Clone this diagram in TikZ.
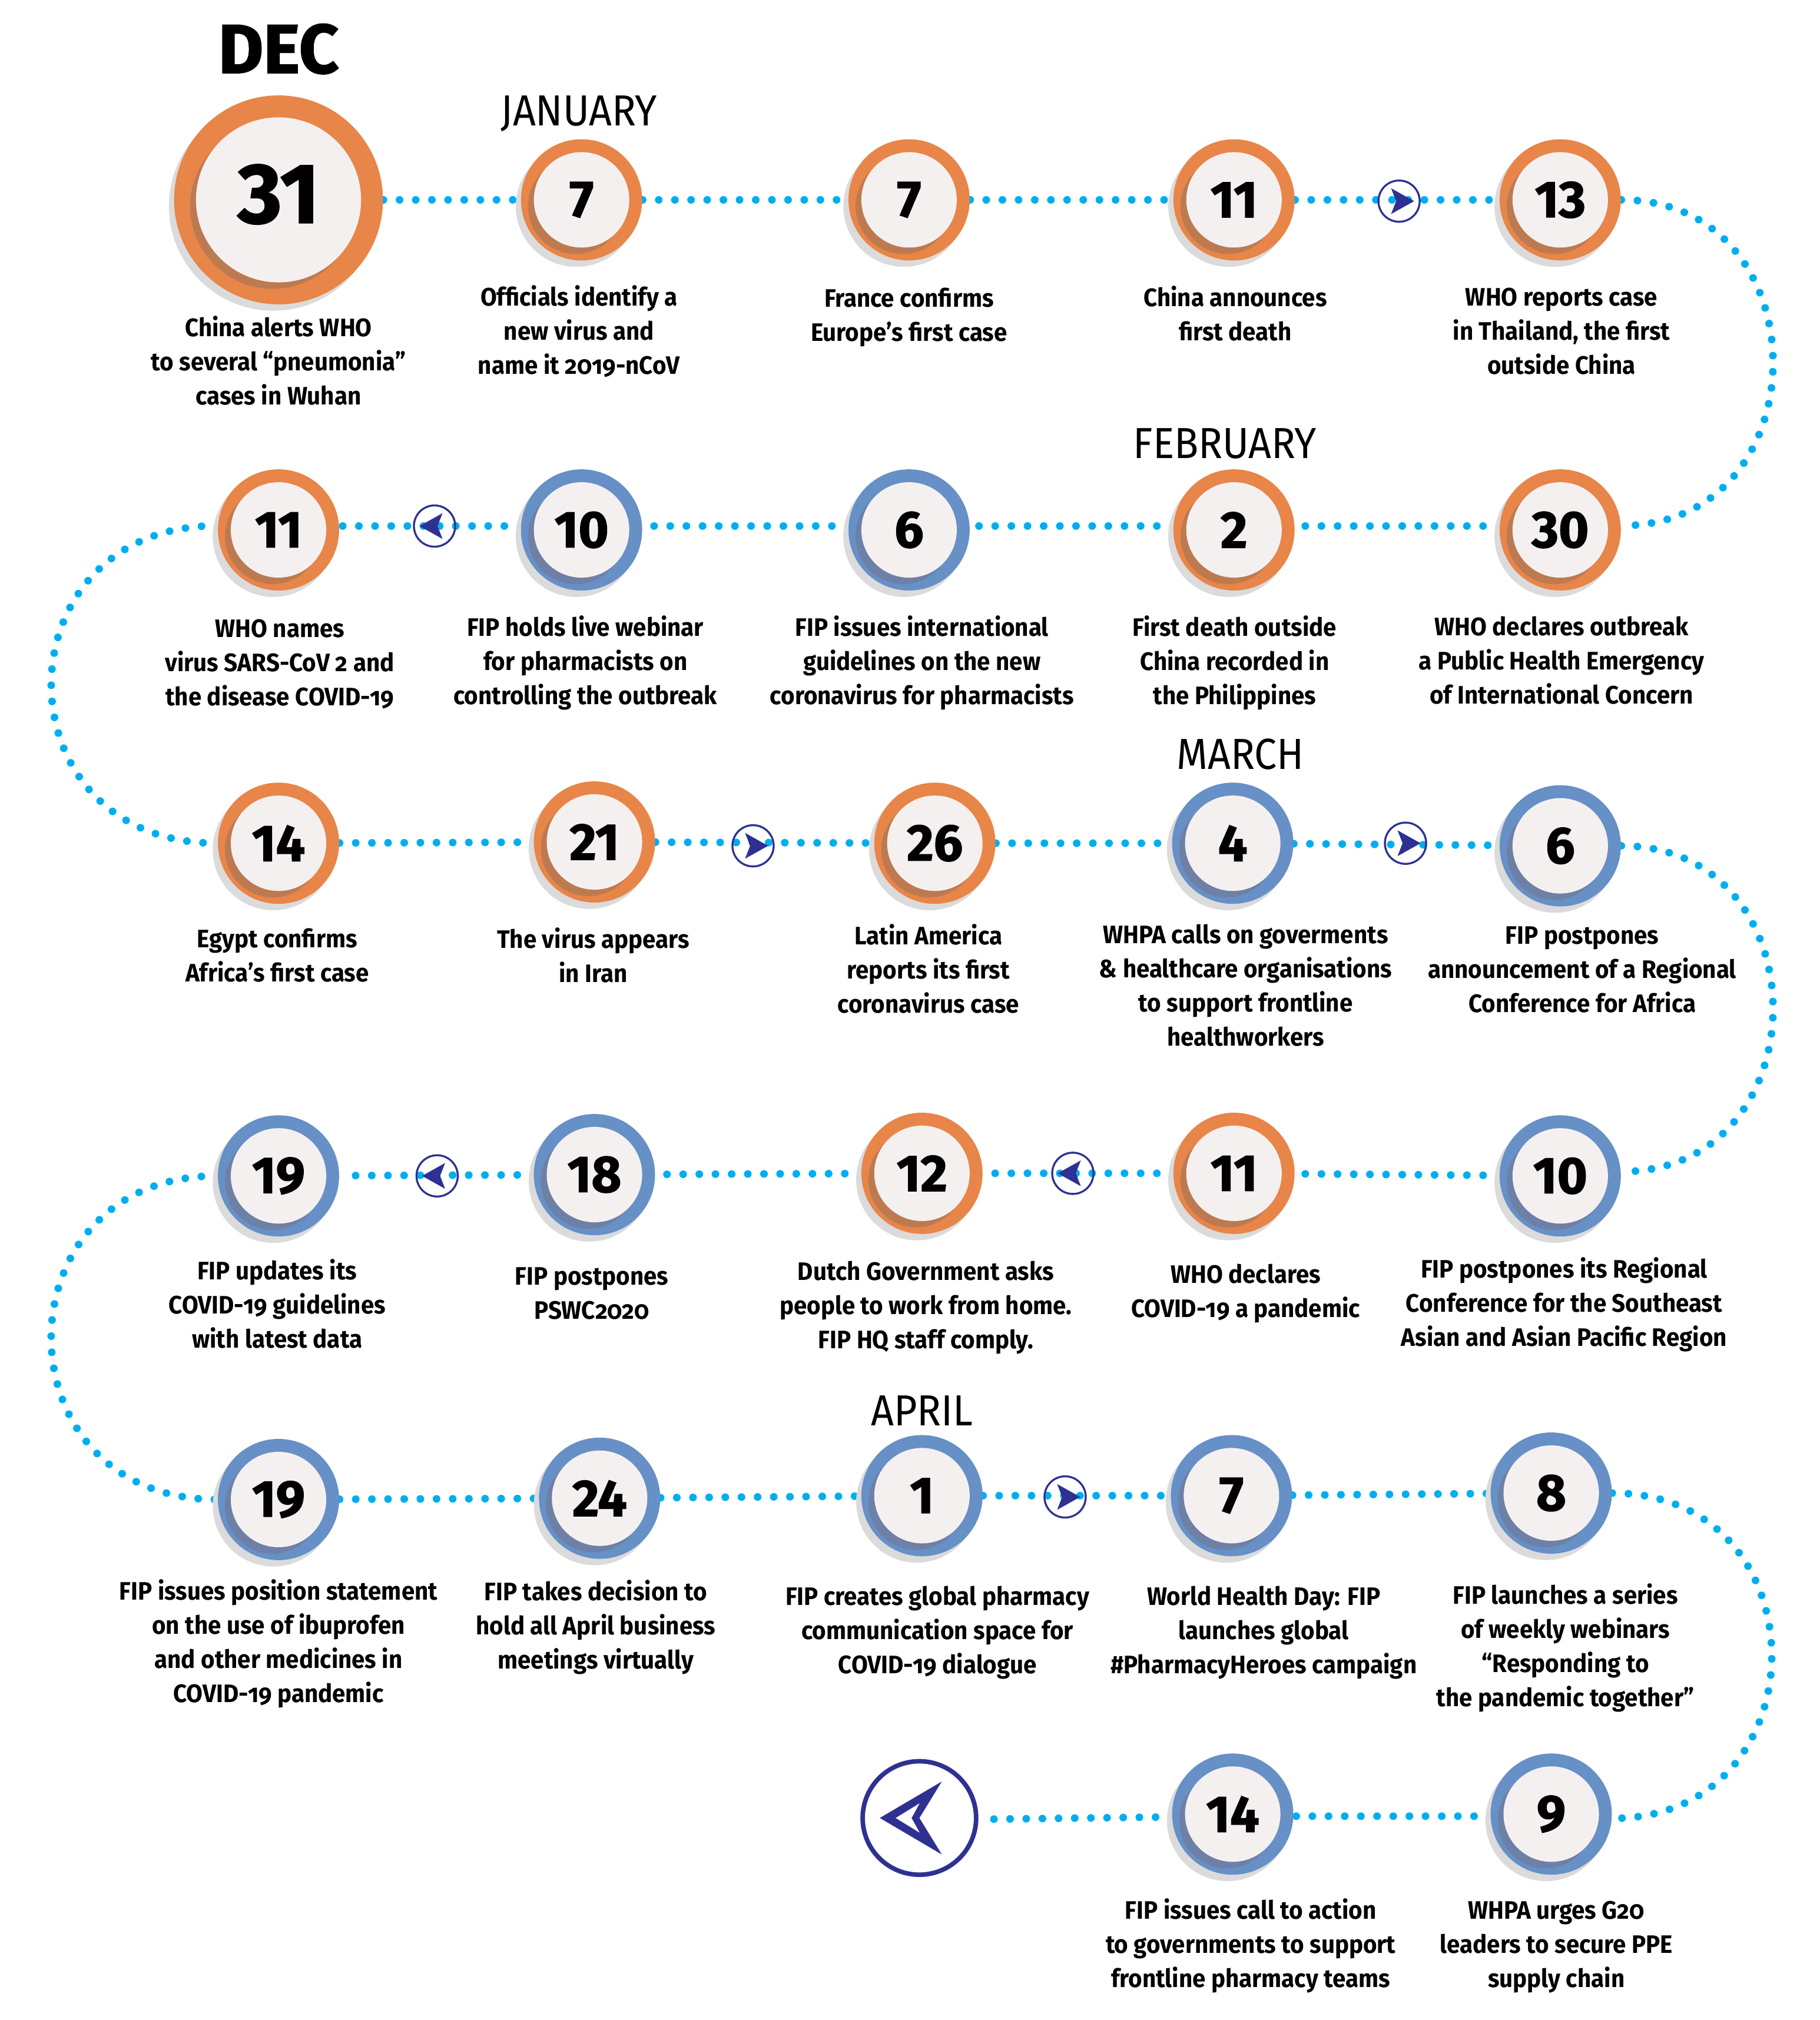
\documentclass[tikz,border=0pt]{standalone}
\usepackage{fontspec}
\usepackage{xcolor}
\usetikzlibrary{backgrounds,shadows}
\setmainfont[Numbers=OldStyle,FakeStretch=0.94]{Fira Sans}
\newfontfamily\dayfont[Numbers=Lining,FakeBold=1.5]{Fira Sans}
\newfontfamily\monthfont[Numbers=Lining,FakeStretch=0.92]{Fira Sans}
\definecolor{ringorange}{HTML}{E88548}
\definecolor{shadeorange}{HTML}{BD7A50}
\definecolor{ringblue}{HTML}{6690C6}
\definecolor{shadeblue}{HTML}{6E80A6}
\definecolor{ringinner}{HTML}{F5F0F0}
\definecolor{dropgray}{HTML}{DBDBDC}
\definecolor{dotblue}{HTML}{00AEEF}
\definecolor{arrowblue}{HTML}{2E3192}
\tikzset{
  % ring: colour, crescent colour, outer radius, inner radius
  dayring/.style n args={4}{circle,inner sep=0pt,fill=#1,minimum size={2*#3*0.0219cm},text=black,
    general shadow={fill=dropgray,shadow xshift=-2.5pt,shadow yshift=-3.1pt},
    path picture={
      \fill[#2] ([shift={(-4.5,5)}]path picture bounding box.center) circle (#4);
      \fill[ringinner] (path picture bounding box.center) circle (#4);
    }},
  orangeday/.style={dayring={ringorange}{shadeorange}{47}{37},font=\dayfont\bfseries\fontsize{25}{25}\selectfont},
  blueday/.style={dayring={ringblue}{shadeblue}{47}{37},font=\dayfont\bfseries\fontsize{25}{25}\selectfont},
  bigday/.style={dayring={ringorange}{shadeorange}{81}{64},text depth=6pt,font=\dayfont\bfseries\fontsize{41}{41}\selectfont},
  dotline/.style={draw=dotblue,line width=3.7pt,line cap=round,dash pattern=on 0.01pt off 7.8pt},
  waymark/.style={circle,inner sep=0pt,draw=arrowblue,line width=0.95pt,minimum size={32*0.0219cm},
    path picture={
      \fill[arrowblue,shift={(path picture bounding box.center)}] ({#1*(-6.2)},-10) -- ({#1*11.7},0) -- ({#1*(-6.2)},10) -- ({#1*(-2.3)},0) -- cycle;
    }},
  endmark/.style={circle,inner sep=0pt,draw=arrowblue,line width=2.2pt,minimum size={88*0.0219cm},
    path picture={
      \fill[arrowblue,even odd rule,shift={(path picture bounding box.center)}]
        (-30.7,0) -- (17.4,-28.3) -- (0,0) -- (17.4,28.3) -- cycle
        (-18.5,0) -- (0.4,-11.6) -- (-6,0) -- (0.4,11.6) -- cycle;
    }},
  daytext/.style={align=center,inner sep=0pt,font=\bfseries\fontsize{12.2}{16.5}\selectfont},
  monthtext/.style={inner sep=0pt,font=\monthfont\fontsize{21}{21}\selectfont},
  bigmonth/.style={inner sep=0pt,font=\dayfont\bfseries\fontsize{33.5}{33.5}\selectfont}
}

\begin{document}
\begin{tikzpicture}[x=0.0219cm,y=-0.0219cm]
  \useasboundingbox (0,0) rectangle (1411,1566.7);

  % first row
  \node[bigmonth] (dec) at (216,38) {DEC};
  \node[monthtext] (jan) at (449,88) {JANUARY};
  \node[bigday] (a1) at (216,155) {31};
  \node[orangeday] (a2) at (451,155) {7};
  \node[orangeday] (a3) at (705,155) {7};
  \node[orangeday] (a4) at (957,155) {11};
  \node[orangeday] (a5) at (1210,155) {13};
  \node[waymark=1] (w1) at (1085,156) {};
  \node[daytext] (ta1) at (216,279.5) {China alerts WHO\\to several “pneumonia”\\cases in Wuhan};
  \node[daytext] (ta2) at (449,257) {Officials identify a\\new virus and\\name it 2019-nCoV};
  \node[daytext] (ta3) at (705,246) {France confirms\\Europe’s first case};
  \node[daytext] (ta4) at (958,243) {China announces\\first death};
  \node[daytext] (ta5) at (1211,257) {WHO reports case\\in Thailand, the first\\outside China};

  % second row
  \node[monthtext] (feb) at (950,344) {FEBRUARY};
  \node[orangeday] (b1) at (216,411) {11};
  \node[blueday] (b2) at (451,411) {10};
  \node[blueday] (b3) at (705,411) {6};
  \node[orangeday] (b4) at (957,411) {2};
  \node[orangeday] (b5) at (1210,411) {30};
  \node[waymark=-1] (w2) at (337,408) {};
  \node[daytext] (tb1) at (217,515) {WHO names\\virus SARS-CoV 2 and\\the disease COVID-19};
  \node[daytext] (tb2) at (454,514) {FIP holds live webinar\\for pharmacists on\\controlling the outbreak};
  \node[daytext] (tb3) at (715,514) {FIP issues international\\guidelines on the new\\coronavirus for pharmacists};
  \node[daytext] (tb4) at (957.5,514) {First death outside\\China recorded in\\the Philippines};
  \node[daytext] (tb5) at (1211,512) {WHO declares outbreak\\a Public Health Emergency\\of International Concern};

  % third row
  \node[monthtext] (mar) at (962,585) {MARCH};
  \node[orangeday] (c1) at (216,654) {14};
  \node[orangeday] (c2) at (461,653) {21};
  \node[orangeday] (c3) at (725,654) {26};
  \node[blueday] (c4) at (956,654) {4};
  \node[blueday] (c5) at (1210,656) {6};
  \node[waymark=1] (w3) at (584,656) {};
  \node[waymark=1] (w4) at (1090,654) {};
  \node[daytext] (tc1) at (215,741) {Egypt confirms\\Africa’s first case};
  \node[daytext] (tc2) at (460,741) {The virus appears\\in Iran};
  \node[daytext] (tc3) at (720,751.5) {Latin America\\reports its first\\coronavirus case};
  \node[daytext] (tc4) at (966,764) {WHPA calls on goverments\\\& healthcare organisations\\to support frontline\\healthworkers};
  \node[daytext] (tc5) at (1227,752) {FIP postpones\\announcement of a Regional\\Conference for Africa};

  % fourth row
  \node[blueday] (d1) at (216,912) {19};
  \node[blueday] (d2) at (461,911) {18};
  \node[orangeday] (d3) at (715,910) {12};
  \node[orangeday] (d4) at (957,910) {11};
  \node[blueday] (d5) at (1210,912) {10};
  \node[waymark=-1] (w5) at (339,912) {};
  \node[waymark=-1] (w6) at (832,910) {};
  \node[daytext] (td1) at (215,1011) {FIP updates its\\COVID-19 guidelines\\with latest data};
  \node[daytext] (td2) at (459,1003) {FIP postpones\\PSWC2020};
  \node[daytext] (td3) at (718,1014) {Dutch Government asks\\people to work from home.\\FIP HQ staff comply.};
  \node[daytext] (td4) at (966,1003) {WHO declares\\COVID-19 a pandemic};
  \node[daytext] (td5) at (1213,1012) {FIP postpones its Regional\\Conference for the Southeast\\Asian and Asian Pacific Region};

  % fifth row
  \node[monthtext] (apr) at (715,1094) {APRIL};
  \node[blueday] (e1) at (216,1163) {19};
  \node[blueday] (e2) at (465,1162) {24};
  \node[blueday] (e3) at (715,1160) {1};
  \node[blueday] (e4) at (955,1160) {7};
  \node[blueday] (e5) at (1203,1158) {8};
  \node[waymark=1] (w7) at (826,1161) {};
  \node[daytext] (te1) at (216,1275) {FIP issues position statement\\on the use of ibuprofen\\and other medicines in\\COVID-19 pandemic};
  \node[daytext] (te2) at (462,1262) {FIP takes decision to\\hold all April business\\meetings virtually};
  \node[daytext] (te3) at (727,1266) {FIP creates global pharmacy\\communication space for\\COVID-19 dialogue};
  \node[daytext] (te4) at (980,1266) {World Health Day: FIP\\launches global\\\#PharmacyHeroes campaign};
  \node[daytext] (te5) at (1214,1278) {FIP launches a series\\of weekly webinars\\“Responding to\\the pandemic together”};

  % last row
  \node[endmark] (f0) at (713,1410) {};
  \node[blueday] (f1) at (956,1407) {14};
  \node[blueday] (f2) at (1203,1407) {9};
  \node[daytext] (tf1) at (970,1509) {FIP issues call to action\\to governments to support\\frontline pharmacy teams};
  \node[daytext] (tf2) at (1207,1510) {WHPA urges G20\\leaders to secure PPE\\supply chain};

  % dotted line behind the rings
  \begin{scope}[on background layer]
    \draw[dotline] (a1) -- (a2) -- (a3) -- (a4) -- (a5);
    \draw[dotline] (a5.east) .. controls +(157,0) and +(157,0) .. (b5.4);
    \draw[dotline,transform canvas={yshift=1.9pt}] (b5) -- (b4) -- (b3) -- (b2) -- (b1);
    \draw[dotline] (b1.176) .. controls +(-172,0) and +(-172,0) .. (c1.west);
    \draw[dotline] (c1) -- (c2) -- (c3) -- (c4) -- (c5);
    \draw[dotline] (c5.east) .. controls +(157,0) and +(157,0) .. (d5.4);
    \draw[dotline] (d5) -- (d4) -- (d3) -- (d2) -- (d1);
    \draw[dotline] (d1.west) .. controls +(-172,0) and +(-172,0) .. (e1.west);
    \draw[dotline] (e1) -- (e2) -- (e3) -- (e4) -- (e5);
    \draw[dotline] (e5.east) .. controls +(165,0) and +(165,0) .. (f2.356);
    \draw[dotline,transform canvas={yshift=-1pt}] (f2) -- (f1) -- (f0);
  \end{scope}
\end{tikzpicture}
\end{document}
